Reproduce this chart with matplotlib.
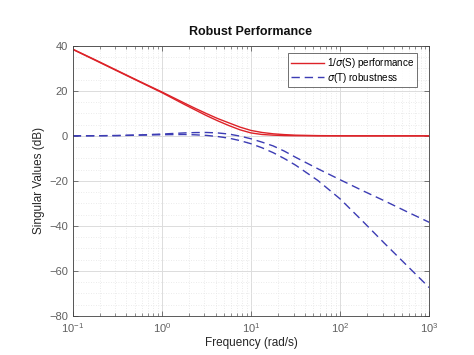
import numpy as np
import matplotlib
matplotlib.use("Agg")
import matplotlib.pyplot as plt
from matplotlib.ticker import LogLocator, MultipleLocator, NullFormatter

plt.rcParams['font.family'] = ['Liberation Sans', 'DejaVu Sans']
plt.rcParams['mathtext.fontset'] = 'dejavusans'

freq = [0.1, 0.178, 0.316, 0.562, 1.0, 1.78, 2.37, 3.16, 4.22, 5.62, 7.5,
        10.0, 13.3, 17.8, 23.7, 31.6, 56.2, 100.0, 178.0, 316.0, 562.0, 1000.0]

perf_hi = [38.5, 33.8, 29.0, 24.2, 19.5, 14.6, 12.2, 9.9, 7.7, 5.8, 3.9,
           2.4, 1.5, 0.9, 0.55, 0.3, 0.1, 0.03, 0.0, 0.0, 0.0, 0.0]
perf_lo = [38.4, 33.6, 28.8, 24.0, 19.2, 14.0, 11.5, 9.0, 6.7, 4.6, 2.7,
           1.3, 0.6, 0.3, 0.12, 0.05, 0.0, 0.0, 0.0, 0.0, 0.0, 0.0]

rob_hi = [0.0, 0.05, 0.15, 0.4, 0.8, 1.3, 1.45, 1.5, 1.3, 0.8, -0.1,
          -1.3, -2.8, -4.5, -6.8, -9.5, -14.6, -19.5, -24.3, -28.9, -33.7, -38.4]
rob_lo = [0.0, 0.05, 0.1, 0.3, 0.5, 0.6, 0.45, 0.2, -0.3, -1.0, -2.1,
          -3.5, -5.3, -7.5, -10.1, -13.0, -19.8, -28.0, -37.8, -47.8, -57.6, -67.4]

legend_labels = [r'1/$\sigma$(S) performance', r'$\sigma$(T) robustness']
title = 'Robust Performance'
xlabel = 'Frequency (rad/s)'
ylabel = 'Singular Values (dB)'

red = '#dd2228'
blue = '#3c3cb4'
tick_col = '#606060'

fig = plt.figure(figsize=(4.74, 3.55), dpi=100)
ax = fig.add_axes([0.1535, 0.110, 0.752, 0.761])

l1, = ax.semilogx(freq, perf_hi, color=red, lw=1.0)
ax.semilogx(freq, perf_lo, color=red, lw=1.0)
l2, = ax.semilogx(freq, rob_hi, color=blue, lw=1.0, dashes=(6, 3.5))
ax.semilogx(freq, rob_lo, color=blue, lw=1.0, dashes=(6, 3.5))

ax.set_xlim(0.1, 1000)
ax.set_ylim(-80, 40)
ax.yaxis.set_major_locator(MultipleLocator(20))
ax.yaxis.set_minor_locator(MultipleLocator(5))
ax.xaxis.set_major_locator(LogLocator(base=10, numticks=10))
ax.xaxis.set_minor_locator(LogLocator(base=10, subs=np.arange(2, 10), numticks=20))
ax.xaxis.set_minor_formatter(NullFormatter())

ax.grid(True, which='major', color='#dcdcdc', lw=0.7, ls='-')
ax.grid(True, which='minor', color='#e4e4e4', lw=0.6, ls=(0, (1, 2)))
ax.set_axisbelow(True)

ax.tick_params(which='both', direction='in', top=True, right=True,
               colors=tick_col, labelsize=8, labelcolor=tick_col)
ax.tick_params(which='major', length=3.5, width=0.6)
ax.tick_params(which='minor', length=2, width=0.5)
ax.tick_params(axis='y', which='minor', length=0)
for s in ax.spines.values():
    s.set_color('#404040')
    s.set_linewidth(0.6)

ax.set_title(title, fontsize=9, fontweight='bold', color='#111111', pad=8)
ax.set_xlabel(xlabel, fontsize=8.5, color='#262626', labelpad=2)
ax.set_ylabel(ylabel, fontsize=8.5, color='#262626', labelpad=3)

leg = ax.legend([l1, l2], legend_labels, loc='upper right', fontsize=7.1,
                frameon=True, fancybox=False, edgecolor='#303030',
                borderpad=0.3, handlelength=3.4, handletextpad=0.25,
                labelspacing=0.05, borderaxespad=0,
                bbox_to_anchor=(0.966, 0.973))
leg.get_frame().set_linewidth(0.6)

fig.savefig('out.png', dpi=100)
